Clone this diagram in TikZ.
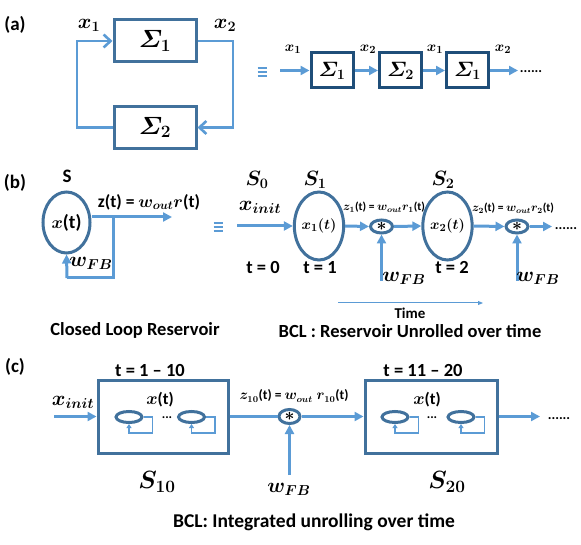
\documentclass[tikz,border=0pt]{standalone}
\usepackage[no-math]{fontspec}
\setmainfont{Carlito}
\usepackage{amsmath,bm}
\usetikzlibrary{arrows.meta,shapes.geometric,calc}
\definecolor{lb}{HTML}{5B9BD5}
\definecolor{db}{HTML}{41719C}
\definecolor{nb}{HTML}{1F4E79}
\newcommand{\fsz}[1]{\fontsize{#1}{#1}\selectfont\bfseries}
\newcommand{\minires}[3]{%
  \node[miniell] (#1) at (#2,#3) {};
  \coordinate (#1a) at ($(#1.center)+(23.5,0)$);
  \coordinate (#1b) at ($(#1.center)+(23.5,16)$);
  \draw[thinloop] (#1.east) -- (#1a) -- (#1b) -| (#1.south);}
\newcommand{\eqvsym}[2]{%
  \foreach \dy in {-3.8,0,3.8} {\draw[draw=lb,line width=2.4pt] (#1-4.5,#2+\dy) -- (#1+4.5,#2+\dy);}}
\begin{document}
\begin{tikzpicture}[x=1pt,y=-1pt,
  lbl/.style={inner sep=0pt,text=black},
  flow/.style={draw=lb,line width=3pt,-{Triangle[length=9pt,width=9pt]}},
  pline/.style={draw=lb,line width=3pt},
  barb/.style={draw=lb,line width=2.6pt,-{Straight Barb[length=7pt,width=13pt]}},
  sbox/.style={draw=db,line width=3pt,minimum width=82pt,minimum height=42pt,inner sep=0pt,fill=white},
  cbox/.style={draw=nb,line width=3pt,minimum width=42pt,minimum height=35pt,inner sep=0pt,fill=white},
  rbox/.style={draw=db,line width=3pt,minimum height=73pt,inner sep=0pt},
  res/.style={ellipse,draw=db,line width=3pt,inner sep=0pt},
  mult/.style={ellipse,draw=db,line width=3pt,inner sep=0pt,minimum width=22pt,minimum height=13pt},
  miniell/.style={ellipse,draw=db,line width=3pt,inner sep=0pt,minimum width=26pt,minimum height=11pt},
  thinloop/.style={draw=lb,line width=1.4pt,-{Triangle[length=4pt,width=5pt]}},
  timearrow/.style={draw=lb,line width=1pt,-{Triangle[length=5pt,width=4pt]}},
  star/.style={inner sep=0pt,text=black,font=\fsz{19},text height=8pt,text depth=0pt}
]
\useasboundingbox (0,0) rectangle (581,545);

% ---------------- (a) ----------------
\node[lbl,font=\fsz{19}] (la) at (15,25) {(a)};
\node[sbox,font=\fsz{26}] (s1) at (155,41) {$\bm{\varSigma_1}$};
\node[sbox,font=\fsz{26}] (s2) at (155,127.5) {$\bm{\varSigma_2}$};
\coordinate (alt) at (77,41);
\coordinate (arb) at (233,127.5);
\draw[barb] (s2.west) -| (alt) -- (s1.west);
\draw[barb] (s1.east) -| (arb) -- (s2.east);
\node[lbl,font=\fsz{21}] (ax1) at (89,25) {$\bm{x_1}$};
\node[lbl,font=\fsz{21}] (ax2) at (225,25) {$\bm{x_2}$};
\eqvsym{262}{72}

\node[cbox,font=\fsz{21}] (b1) at (332,70.5) {$\bm{\varSigma_1}$};
\node[cbox,font=\fsz{21}] (b2) at (400.5,70.5) {$\bm{\varSigma_2}$};
\node[cbox,font=\fsz{21}] (b3) at (467.5,70.5) {$\bm{\varSigma_1}$};
\coordinate (cin) at (280,70.5);
\coordinate (cout) at (518,70.5);
\draw[flow] (cin) -- (b1);
\draw[flow] (b1) -- (b2);
\draw[flow] (b2) -- (b3);
\draw[flow] (b3) -- (cout);
\node[lbl,font=\fsz{14}] (cdots) at (531,72) {......};
\node[lbl,font=\fsz{15}] (cx1) at (293,49) {$\bm{x_1}$};
\node[lbl,font=\fsz{15}] (cx2) at (368,49) {$\bm{x_2}$};
\node[lbl,font=\fsz{15}] (cx3) at (435,49) {$\bm{x_1}$};
\node[lbl,font=\fsz{15}] (cx4) at (503,49) {$\bm{x_2}$};

% ---------------- (b) ----------------
\node[lbl,font=\fsz{19}] (lb) at (15,183) {(b)};
\node[lbl,font=\fsz{19}] (bS) at (67,176) {S};
\node[res,minimum width=47pt,minimum height=61pt,font=\fsz{19}] (E) at (66.5,222.5) {$\bm{x}$(t)};
\coordinate (zo) at (172,217);
\coordinate (fb) at (113,217);
\coordinate (fbc) at (67,278);
\draw[flow] (E.east |- zo) -- (zo);
\draw[pline] (fb) |- (fbc);
\draw[flow] (fbc) -- (E.south);
\node[lbl,font=\fsz{21}] (bw) at (91,263) {$\bm{w_{FB}}$};
\node[lbl,font=\fsz{17.5}] (bz) at (149,202) {z(t) = $\bm{w_{out}r}$(t)};
\eqvsym{218}{227}
\node[lbl,font=\fsz{18.5}] (bcl) at (135,330) {Closed Loop Reservoir};

\node[lbl,font=\fsz{20}] (S0) at (257,180) {$\bm{S_0}$};
\node[lbl,font=\fsz{20}] (S1) at (315,180) {$\bm{S_1}$};
\node[lbl,font=\fsz{20}] (S2) at (443,180) {$\bm{S_2}$};
\node[lbl,font=\fsz{21}] (xi) at (260,207) {$\bm{x_{init}}$};
\node[res,minimum width=48pt,minimum height=68pt,font=\fsz{15.5}] (E1) at (319,226) {$\bm{x_1(t)}$};
\node[res,minimum width=48pt,minimum height=68pt,font=\fsz{15.5}] (E2) at (447.5,226) {$\bm{x_2(t)}$};
\node[mult] (C1) at (381.5,226.5) {};
\node[mult] (C2) at (517,226.5) {};
\node[star] (st1) at (C1.center) {$\bm{\ast}$};
\node[star] (st2) at (C2.center) {$\bm{\ast}$};
\coordinate (bin) at (237,226);
\coordinate (bout) at (552,226.5);
\coordinate (wf1) at (381.5,281);
\coordinate (wf2) at (517,281);
\draw[flow] (bin) -- (E1.west);
\draw[flow] (E1.east) -- (C1.west);
\draw[flow] (C1.east) -- (E2.west);
\draw[flow] (E2.east) -- (C2.west);
\draw[flow] (C2.east) -- (bout);
\draw[flow] (wf1) -- (C1.south);
\draw[flow] (wf2) -- (C2.south);
\node[lbl,font=\fsz{14}] (bdots) at (566,229) {......};
\node[lbl,font=\fsz{11.5}] (z1) at (384,207) {$\bm{z_1}$(t) = $\bm{w_{out}r_1}$(t)};
\node[lbl,font=\fsz{11.5}] (z2) at (513,208) {$\bm{z_2}$(t) = $\bm{w_{out}r_2}$(t)};
\node[lbl,font=\fsz{21}] (w1) at (404,278) {$\bm{w_{FB}}$};
\node[lbl,font=\fsz{21}] (w2) at (538,278) {$\bm{w_{FB}}$};
\node[lbl,font=\fsz{18.5}] (t0) at (263,268) {t = 0};
\node[lbl,font=\fsz{18.5}] (t1) at (320,268) {t = 1};
\node[lbl,font=\fsz{18.5}] (t2) at (452,268) {t = 2};
\coordinate (ta) at (338,303);
\coordinate (tb) at (483,303);
\draw[timearrow] (ta) -- (tb);
\node[lbl,font=\fsz{15}] (time) at (410,313) {Time};
\node[lbl,font=\fsz{18.5}] (bcl2) at (410,331) {BCL : Reservoir Unrolled over time};

% ---------------- (c) ----------------
\node[lbl,font=\fsz{19}] (lc) at (15,367) {(c)};
\node[lbl,font=\fsz{18.5}] (tr1) at (150,371) {t = 1 -- 10};
\node[lbl,font=\fsz{18.5}] (tr2) at (423,371) {t = 11 -- 20};
\node[rbox,minimum width=130pt] (B10) at (163,416.5) {};
\node[rbox,minimum width=132pt] (B20) at (431,416.5) {};
\node[lbl,font=\fsz{21}] (cxi) at (73,402) {$\bm{x_{init}}$};
\coordinate (cin2) at (54,416.5);
\draw[flow] (cin2) -- (B10.west);
\node[lbl,font=\fsz{16.5}] (cxt1) at (160,400) {$\bm{x}$(t)};
\node[lbl,font=\fsz{16.5}] (cxt2) at (427,400) {$\bm{x}$(t)};
\minires{m1}{129}{417}
\minires{m2}{191.5}{417}
\minires{m3}{395}{417}
\minires{m4}{461}{417}
\node[lbl,font=\fsz{13}] (d1) at (167,418) {...};
\node[lbl,font=\fsz{13}] (d2) at (432,418) {...};
\node[mult,minimum width=21pt,minimum height=14pt] (C3) at (289.5,416.5) {};
\node[star] (st3) at (C3.center) {$\bm{\ast}$};
\draw[pline] (B10.east) -- (C3.west);
\draw[flow] (C3.east) -- (B20.west);
\coordinate (cout2) at (540,416.5);
\draw[flow] (B20.east) -- (cout2);
\node[lbl,font=\fsz{14}] (cdots2) at (559,419) {......};
\coordinate (wf3) at (289.5,475);
\draw[flow] (wf3) -- (C3.south);
\node[lbl,font=\fsz{21}] (w3) at (289,489) {$\bm{w_{FB}}$};
\node[lbl,font=\fsz{13.5}] (z10) at (294,396) {$\bm{z_{10}}$(t) = $\bm{w_{out}\;r_{10}}$(t)};
\node[lbl,font=\fsz{27}] (S10) at (157,482) {$\bm{S_{10}}$};
\node[lbl,font=\fsz{27}] (S20) at (447,482) {$\bm{S_{20}}$};
\node[lbl,font=\fsz{19.5}] (bcl3) at (314,522) {BCL: Integrated unrolling over time};
\end{tikzpicture}
\end{document}
